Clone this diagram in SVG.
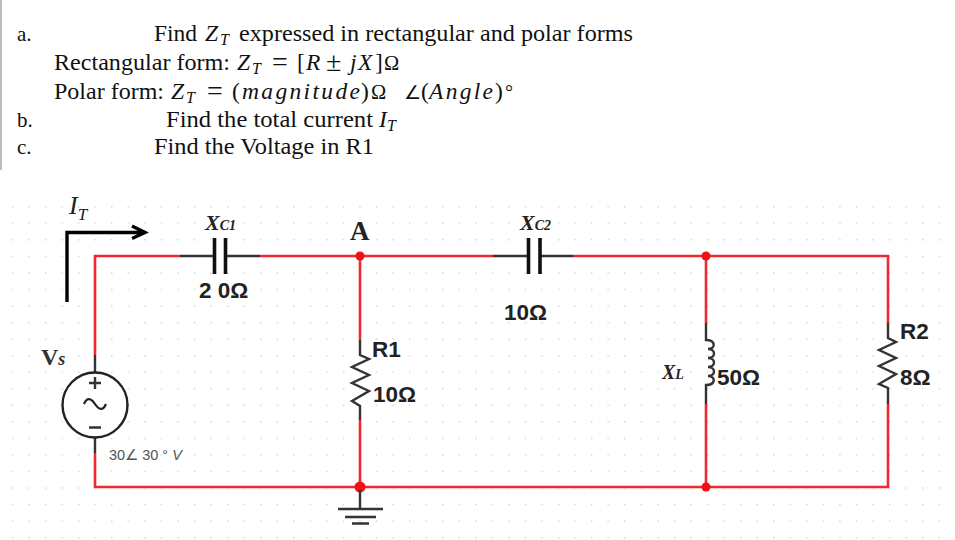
<svg xmlns="http://www.w3.org/2000/svg" width="955" height="540" viewBox="0 0 955 540">
<style>
.s{font-family:"Liberation Serif",serif;font-size:23.5px;fill:#111}
.lab{font-size:21px}
.m{font-style:italic}
.sub{font-style:italic;font-size:16px}
.om{font-size:20.5px}
.op{font-size:28px}
.l{font-family:"Liberation Sans",Arial,sans-serif;font-size:22.5px;font-weight:bold;fill:#222}
.x{font-family:"Liberation Serif",serif;font-style:italic;font-weight:bold;font-size:22px;fill:#222}
.xs{font-size:14px}
.red{fill:none;stroke:#ee2a30;stroke-width:2.6}
.blk{fill:none;stroke:#333;stroke-width:2.4}
.plate{fill:none;stroke:#111;stroke-width:3.6}
.nd{fill:#f40f14}
</style>
<defs>
<pattern id="dots" x="28.3" y="206" width="16.55" height="16.55" patternUnits="userSpaceOnUse">
<rect x="-.2" y="-.2" width="1.6" height="1.6" fill="#d0d0d0"/>
</pattern>
</defs>
<rect width="955" height="540" fill="#fff"/>
<rect x="0" y="0" width="2" height="170" fill="#bbb"/>
<rect x="0" y="200" width="955" height="340" fill="url(#dots)"/>
<g id="question-text">
<text class="s lab" x="17" y="41">a.</text>
<text class="s" x="154" y="41">Find</text>
<text class="s m" x="205" y="41">Z</text><text class="s sub" x="220" y="45">T</text>
<text class="s" x="239" y="41" textLength="394" lengthAdjust="spacingAndGlyphs">expressed in rectangular and polar forms</text>
<text class="s" x="54" y="70" textLength="176" lengthAdjust="spacingAndGlyphs">Rectangular form:</text>
<text class="s m" x="237" y="70">Z</text><text class="s sub" x="252" y="74">T</text>
<text class="s op" x="272" y="71">=</text><text class="s" x="297" y="70">[</text>
<text class="s m" x="306" y="70">R</text><text class="s op" x="326" y="71">±</text>
<text class="s m" x="350" y="70">j</text><text class="s m" x="358" y="70">X</text><text class="s" x="375" y="70">]</text>
<text class="s om" x="384" y="70">Ω</text>
<text class="s" x="54" y="99" textLength="110" lengthAdjust="spacingAndGlyphs">Polar form:</text>
<text class="s m" x="171" y="99">Z</text><text class="s sub" x="186" y="103">T</text>
<text class="s op" x="207" y="100">=</text><text class="s" x="232" y="99">(</text>
<text class="s m" x="242" y="99" textLength="118">magnitude</text>
<text class="s" x="361" y="99">)</text><text class="s om" x="371" y="99">Ω</text>
<text class="s" x="404" y="99" style="font-size:19px">∠</text><text class="s" x="421" y="99">(</text>
<text class="s m" x="429" y="99" textLength="64">Angle</text>
<text class="s" x="495" y="99">)</text><text class="s" x="505" y="99" style="font-size:20px">°</text>
<text class="s lab" x="17" y="127">b.</text>
<text class="s" x="166" y="127" textLength="207" lengthAdjust="spacingAndGlyphs">Find the total current</text>
<text class="s m" x="379" y="127">I</text><text class="s sub" x="387" y="131">T</text>
<text class="s lab" x="17" y="154">c.</text>
<text class="s" x="154" y="154" textLength="220" lengthAdjust="spacingAndGlyphs">Find the Voltage in R1</text>
</g>
<g id="connectors">
<path class="red" d="M95 355V256H180M260 256H493M573 256H888V323M888 404V487H95V453M360 256V340M360 420V487M706 256V323M706 404V487"/>
</g>
<g id="it-arrow">
<path d="M67 302V232.500H145M132 226L145 232.500L132 238.500" fill="none" stroke="#000" stroke-width="3.400"/>
<text x="69" y="214" style="font-family:'Liberation Serif',serif;font-style:italic;font-size:26px;fill:#222">I<tspan font-size="17" dy="6">T</tspan></text>
</g>
<g id="source-vs">
<path class="blk" d="M95 355V372M95 438V453"/>
<circle cx="95" cy="405" r="32.500" fill="#fff" stroke="#222" stroke-width="2.400"/>
<path class="blk" d="M89 383H101M95 377V389M89 427.500H101"/>
<path d="M84 404C87 397 91 398 95 404S103 411 106 404" fill="none" stroke="#222" stroke-width="2.200"/>
<text x="41" y="365" style="font-family:'Liberation Serif',serif;font-size:24px;fill:#333;font-weight:bold">V<tspan font-style="italic" font-size="18">s</tspan></text>
<text x="109" y="460" style="font-family:'Liberation Sans',sans-serif;font-size:14.500px;fill:#555">30∠ 30 ° <tspan style="font-style:italic">V</tspan></text>
</g>
<g id="xc1">
<path class="blk" d="M180 256H214M225 256H260"/>
<path class="plate" d="M214.500 238V274M225.500 238V274"/>
<text class="x" x="205" y="230">X<tspan class="xs">C1</tspan></text>
<text class="l" x="199" y="298">2 0Ω</text>
</g>
<g id="node-a">
<circle class="nd" cx="360" cy="256" r="4.500"/>
<text x="350" y="240" style="font-family:'Liberation Serif',serif;font-size:27px;font-weight:bold;fill:#222">A</text>
</g>
<g id="r1">
<path class="blk" d="M360 340V355L369 359L352 367L369 375L352 383L369 391L352 401L360 406V420"/>
<text class="l" x="372" y="357">R1</text>
<text class="l" x="373" y="402">10Ω</text>
</g>
<g id="xc2">
<path class="blk" d="M493 256H528M540 256H573"/>
<path class="plate" d="M528.500 238V274M540 238V274"/>
<text class="x" x="520" y="230">X<tspan class="xs">C2</tspan></text>
<text class="l" x="504" y="320">10Ω</text>
</g>
<g id="node-right-top"><circle class="nd" cx="706" cy="256" r="4.500"/></g>
<g id="xl">
<path class="blk" d="M706 323V340C716 340 716 349 708 349C716 349 716 358 708 358C716 358 716 367 708 367C716 367 716 376 708 376C716 376 716 385 706 385V404"/>
<text class="x" x="662" y="379" style="font-size:20px">X<tspan class="xs">L</tspan></text>
<text class="l" x="717" y="385">50Ω</text>
</g>
<g id="r2">
<path class="blk" d="M888 323V338L896 342L879 350L896 358L879 366L896 374L879 384L888 388V404"/>
<text class="l" x="900" y="339">R2</text>
<text class="l" x="900" y="385">8Ω</text>
</g>
<g id="node-bottom"><circle class="nd" cx="360" cy="487" r="5.500"/></g>
<g id="node-right-bottom"><circle class="nd" cx="706" cy="487" r="4.500"/></g>
<g id="ground">
<path class="blk" d="M360 490V509M338 509H383M345 517H376M352 523.500H369"/>
</g>
</svg>
